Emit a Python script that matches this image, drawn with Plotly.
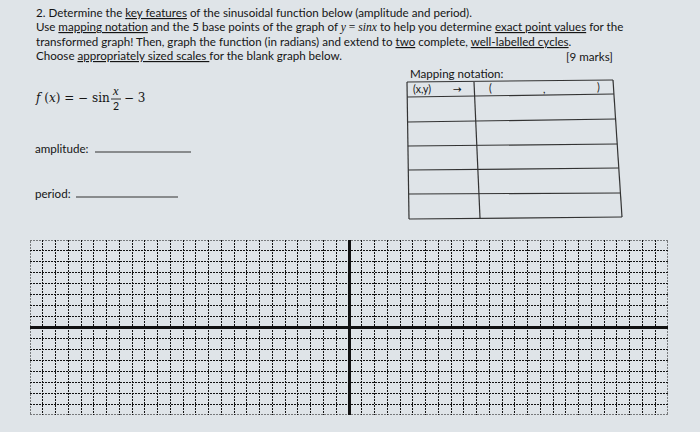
import plotly.graph_objects as go

W, H = 700, 432

# ---- data / text content ----
x_range = [-25, 25]      # grid columns
y_range = [-8, 8]        # grid rows
grid_step = 1

question_lines = [
    "2. Determine the <u>key features</u> of the sinusoidal function below (amplitude and period).",
    "Use <u>mapping notation</u> and the 5 base points of the graph of "
    "<span style=\"font-family:'Liberation Serif'\"><i>y</i> = <i>sinx</i></span>"
    " to help you determine <u>exact point values</u> for the",
    "transformed graph! Then, graph the function (in radians) and extend to <u>two</u> complete, <u>well-labelled cycles</u>.",
    "Choose <u>appropriately sized scales </u>for the blank graph below.",
]
marks_label = "[9 marks]"
mapping_label = "Mapping notation:"
header_cells = ["(x,y)", "→", "(", ",", ")"]

BG = "#dfe4e8"
INK = "#151515"
FONT = "Lato"


def px(x):
    return x / W


def py(y):
    return 1 - y / H


fig = go.Figure()
fig.add_trace(go.Scatter(x=[x_range[0], x_range[1]], y=[y_range[0], y_range[1]],
                         mode="markers", marker=dict(opacity=0), hoverinfo="skip",
                         showlegend=False))

axis_common = dict(showgrid=True, gridcolor="#111111", griddash="2px,1px", gridwidth=1,
                   zeroline=True, zerolinecolor="#111111", zerolinewidth=3,
                   showticklabels=False, ticks="", showline=False, fixedrange=True)

fig.update_layout(
    width=W, height=H,
    margin=dict(l=0, r=0, t=0, b=0),
    paper_bgcolor=BG, plot_bgcolor=BG,
    showlegend=False,
    xaxis=dict(range=x_range, dtick=grid_step, domain=[px(30), px(668)], **axis_common),
    yaxis=dict(range=y_range, dtick=grid_step, domain=[py(415), py(240)], **axis_common),
)

shapes = []
# grid border (dotted)
shapes.append(dict(type="rect", xref="x", yref="y", x0=x_range[0], x1=x_range[1],
                   y0=y_range[0], y1=y_range[1], line=dict(color="#111111", width=1, dash="2px,1px")))


def seg(x0, y0, x1, y1, w=1.2):
    shapes.append(dict(type="line", xref="paper", yref="paper",
                       x0=px(x0), y0=py(y0), x1=px(x1), y1=py(y1),
                       line=dict(color="#333333", width=w)))


# mapping table (slightly skewed like the photo)
seg(407, 82, 613, 80)
seg(409, 219, 622, 217)
seg(407, 82, 409, 219)
seg(613, 80, 622, 217)
seg(474, 82, 480, 218)
row_left = [97, 122, 146, 170, 194]
row_right = [94, 119, 144, 168, 193]
for yl, yr in zip(row_left, row_right):
    xl = 407 + (yl - 82) / 137 * 2
    xr = 613 + (yr - 80) / 137 * 9
    seg(xl, yl, xr, yr)

# answer underlines
seg(95, 152, 191, 152, 1)
seg(76, 197, 178, 197, 1)
# fraction bar
seg(111, 99, 121, 99, 1)
fig.update_layout(shapes=shapes)

anns = []


def text(x, y, s, size=11.6, anchor="left", family=FONT, color=INK):
    anns.append(dict(x=px(x), y=py(y), xref="paper", yref="paper", text=s, showarrow=False,
                     xanchor=anchor, yanchor="middle", borderpad=0, borderwidth=0,
                     font=dict(family=family, size=size, color=color)))


line_y = [13, 27, 41, 55]
for s, yy in zip(question_lines, line_y):
    text(36, yy, s)
text(566, 56, marks_label)
text(410, 73, mapping_label)

# table header
text(413, 89, header_cells[0], size=10.5)
text(453, 89, header_cells[1], size=10.5, family="DejaVu Sans")
text(489, 88, header_cells[2], size=10.5)
text(543, 89, header_cells[3], size=10.5)
text(597, 87, header_cells[4], size=10.5)

# function
text(35, 98, "<i>f</i> (<i>x</i>) = − sin", size=12, family="DejaVu Serif")
text(116, 91, "<i>x</i>", size=12.5, anchor="center", family="Liberation Serif")
text(116, 106, "2", size=10.5, anchor="center", family=FONT)
text(124, 98, "− 3", size=12, family="DejaVu Serif")

text(35, 148, "amplitude:", size=11.6)
text(35, 193, "period:", size=11.6)

fig.update_layout(annotations=anns)

fig.write_html("out.html", config={"displayModeBar": False},
               post_script="document.body.style.margin='0';")
